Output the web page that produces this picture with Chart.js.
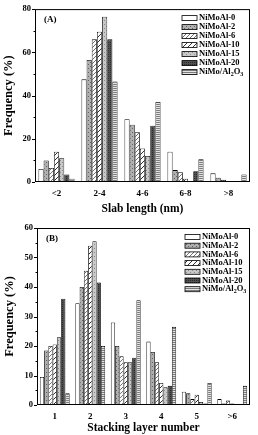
<!DOCTYPE html>
<html>
<head>
    <meta charset="UTF-8">
    <script src="https://cdn.jsdelivr.net/npm/chart.js"></script>
    <style>
        body { margin: 0; padding: 0; background: white; }
        .box { position: absolute; left: 0; width: 258px; }
        #boxA { top: 0; height: 218px; }
        #boxB { top: 218px; height: 217px; }
    </style>
</head>
<body>
    <div id="boxA" class="box"><canvas id="chartA"></canvas></div>
    <div id="boxB" class="box"><canvas id="chartB"></canvas></div>

    <script>
        // series names
        var seriesNames = ["NiMoAl-0", "NiMoAl-2", "NiMoAl-6", "NiMoAl-10", "NiMoAl-15", "NiMoAl-20", "NiMo/Al2O3"];

        // panel A: slab length
        var slabLabels = ["<2", "2-4", "4-6", "6-8", ">8"];
        var slabAl0  = [6, 47.5, 29, 14, 4];
        var slabAl2  = [10, 56.5, 26.5, 5.5, 2];
        var slabAl6  = [6.5, 66, 23, 4.5, 1];
        var slabAl10 = [14, 69.5, 15.5, 1.5, 0.5];
        var slabAl15 = [11, 76.5, 12, 0.5, 0];
        var slabAl20 = [3.5, 66, 26, 5, 0.5];
        var slabRef  = [1.5, 46.5, 37, 10.5, 3.5];
        var slabTicks = [0, 20, 40, 60, 80];

        // panel B: stacking layer number
        var stackLabels = ["1", "2", "3", "4", "5", ">6"];
        var stackAl0  = [9.5, 34.5, 28, 21.5, 4.5, 2];
        var stackAl2  = [18.5, 40, 20, 18, 4, 0.5];
        var stackAl6  = [20, 45.5, 16.5, 14.5, 2, 1.5];
        var stackAl10 = [20.5, 54, 14.5, 7.5, 3.5, 0.5];
        var stackAl15 = [23, 55.5, 14.5, 6, 1, 0];
        var stackAl20 = [36, 41.5, 16, 6.5, 0.5, 0];
        var stackRef  = [4, 20, 35.5, 26.5, 7.5, 6.5];
        var stackTicks = [0, 10, 20, 30, 40, 50, 60];

        var fontFam = "'Liberation Serif', 'Times New Roman', serif";

        // fill patterns for the bars
        function makePattern(kind) {
            var c = document.createElement('canvas');
            c.width = 4; c.height = 4;
            var g = c.getContext('2d');
            if (kind == 'white') {
                g.fillStyle = '#ffffff'; g.fillRect(0, 0, 4, 4);
            } else if (kind == 'dots') {
                g.fillStyle = '#b0b0b0'; g.fillRect(0, 0, 4, 4);
                g.fillStyle = '#606060';
                g.fillRect(0, 0, 1, 1); g.fillRect(2, 2, 1, 1);
            } else if (kind == 'hatch') {
                g.fillStyle = '#ffffff'; g.fillRect(0, 0, 4, 4);
                g.fillStyle = '#707070';
                for (var i = 0; i < 4; i++) { g.fillRect(3 - i, i, 1, 1); }
            } else if (kind == 'hatch2') {
                c.width = 5; c.height = 5;
                g.fillStyle = '#ffffff'; g.fillRect(0, 0, 5, 5);
                g.fillStyle = '#303030';
                for (var j = 0; j < 5; j++) { g.fillRect(4 - j, j, 1, 1); }
            } else if (kind == 'lightdots') {
                g.fillStyle = '#c8c8c8'; g.fillRect(0, 0, 4, 4);
                g.fillStyle = '#8a8a8a';
                g.fillRect(0, 0, 1, 1); g.fillRect(2, 2, 1, 1);
            } else if (kind == 'dark') {
                g.fillStyle = '#505050'; g.fillRect(0, 0, 4, 4);
                g.fillStyle = '#2a2a2a';
                g.fillRect(0, 0, 1, 1); g.fillRect(2, 2, 1, 1);
                g.fillRect(2, 0, 1, 1); g.fillRect(0, 2, 1, 1);
            } else if (kind == 'lines') {
                c.width = 2; c.height = 2;
                g.fillStyle = '#e4e4e4'; g.fillRect(0, 0, 2, 2);
                g.fillStyle = '#7a7a7a'; g.fillRect(0, 0, 2, 1);
            }
            return g.createPattern(c, 'repeat');
        }

        var fills = [makePattern('white'), makePattern('dots'), makePattern('hatch'), makePattern('hatch2'),
                     makePattern('lightdots'), makePattern('dark'), makePattern('lines')];

        function makeDatasets(arrays) {
            return arrays.map(function(arr, i) {
                return {
                    label: seriesNames[i],
                    data: arr,
                    backgroundColor: fills[i],
                    borderColor: '#000',
                    borderWidth: 0.8,
                    categoryPercentage: 0.84,
                    barPercentage: 1.0
                };
            });
        }

        // frame, minor ticks, axis titles, inner legend, panel letter
        var framePlugin = {
            id: 'frame',
            afterDraw: function(chart, args, opts) {
                var ctx = chart.ctx, a = chart.chartArea;
                var ys = chart.scales.y;
                ctx.save();
                ctx.strokeStyle = '#000';
                ctx.lineWidth = 1;
                ctx.strokeRect(a.left + 0.5, a.top + 0.5, a.right - a.left - 1, a.bottom - a.top - 1);

                // ticks on the left axis
                var t = opts.ticks;
                ctx.beginPath();
                for (var k = 0; k < t.length; k++) {
                    var py = Math.round(ys.getPixelForValue(t[k])) + 0.5;
                    ctx.moveTo(a.left - 3, py); ctx.lineTo(a.left, py);
                    if (k < t.length - 1) {
                        var pm = Math.round(ys.getPixelForValue((t[k] + t[k + 1]) / 2)) + 0.5;
                        ctx.moveTo(a.left - 1.5, pm); ctx.lineTo(a.left, pm);
                    }
                }
                ctx.stroke();

                // axis titles
                ctx.fillStyle = '#000';
                ctx.textAlign = 'center';
                ctx.textBaseline = 'middle';
                ctx.font = 'bold 11.5px ' + fontFam;
                ctx.fillText(opts.xTitle, (a.left + a.right) / 2, opts.xTitleY);
                ctx.save();
                ctx.translate(opts.yTitleX, (a.top + a.bottom) / 2);
                ctx.rotate(-Math.PI / 2);
                ctx.font = 'bold 12.5px ' + fontFam;
                ctx.fillText('Frequency (%)', 0, 0);
                ctx.restore();

                ctx.textAlign = 'left';
                ctx.font = 'bold 9px ' + fontFam;
                ctx.fillText(opts.letter, a.left + 9, a.top + opts.letterY);

                var bx = opts.legX, by = a.top + opts.legY;
                chart.data.datasets.forEach(function(ds, i) {
                    var y = by + i * opts.legStep;
                    ctx.fillStyle = ds.backgroundColor;
                    ctx.fillRect(bx, y - 2.5, 15, 5);
                    ctx.strokeStyle = '#000';
                    ctx.lineWidth = 0.8;
                    ctx.strokeRect(bx, y - 2.5, 15, 5);
                    ctx.fillStyle = '#000';
                    ctx.font = 'bold 8.5px ' + fontFam;
                    var tx = bx + 17;
                    if (ds.label == 'NiMo/Al2O3') {
                        ctx.fillText('NiMo/Al', tx, y);
                        tx += ctx.measureText('NiMo/Al').width;
                        ctx.font = 'bold 6px ' + fontFam;
                        ctx.fillText('2', tx, y + 2.5);
                        tx += ctx.measureText('2').width;
                        ctx.font = 'bold 8.5px ' + fontFam;
                        ctx.fillText('O', tx, y);
                        tx += ctx.measureText('O').width;
                        ctx.font = 'bold 6px ' + fontFam;
                        ctx.fillText('3', tx, y + 2.5);
                    } else {
                        ctx.fillText(ds.label, tx, y);
                    }
                });
                ctx.restore();
            }
        };

        function createChart(id, labels, arrays, ticks, leftW, bottomH, pad, frameOpts) {
            var ctx = document.getElementById(id).getContext('2d');
            frameOpts.ticks = ticks;
            return new Chart(ctx, {
                type: 'bar',
                data: { labels: labels, datasets: makeDatasets(arrays) },
                plugins: [framePlugin],
                options: {
                    responsive: true,
                    maintainAspectRatio: false,
                    animation: false,
                    layout: { padding: pad },
                    plugins: {
                        legend: { display: false },
                        tooltip: { enabled: false },
                        frame: frameOpts
                    },
                    scales: {
                        x: {
                            grid: { display: false, drawTicks: false },
                            border: { display: false },
                            ticks: { color: '#000', font: { family: fontFam, size: 9, weight: 'bold' }, padding: 6, maxRotation: 0 },
                            afterFit: function(s) { s.height = bottomH; }
                        },
                        y: {
                            min: ticks[0],
                            max: ticks[ticks.length - 1],
                            afterBuildTicks: function(s) { s.ticks = ticks.map(function(v) { return { value: v }; }); },
                            grid: { display: false, drawTicks: false },
                            border: { display: false },
                            ticks: { color: '#000', font: { family: fontFam, size: 8.5, weight: 'bold' }, padding: 4 },
                            afterFit: function(s) { s.width = leftW; }
                        }
                    }
                }
            });
        }

        createChart('chartA', slabLabels, [slabAl0, slabAl2, slabAl6, slabAl10, slabAl15, slabAl20, slabRef],
            slabTicks, 35, 36, { top: 5, right: 8, left: 0, bottom: 0 },
            { letter: '(A)', letterY: 11, legX: 182, legY: 9, legStep: 9,
              xTitle: 'Slab length (nm)', xTitleY: 209, yTitleX: 9 });

        createChart('chartB', stackLabels, [stackAl0, stackAl2, stackAl6, stackAl10, stackAl15, stackAl20, stackRef],
            stackTicks, 37, 30, { top: 10, right: 8, left: 0, bottom: 0 },
            { letter: '(B)', letterY: 11, legX: 185, legY: 9, legStep: 8.7,
              xTitle: 'Stacking layer number', xTitleY: 210, yTitleX: 10 });
    </script>
</body>
</html>
